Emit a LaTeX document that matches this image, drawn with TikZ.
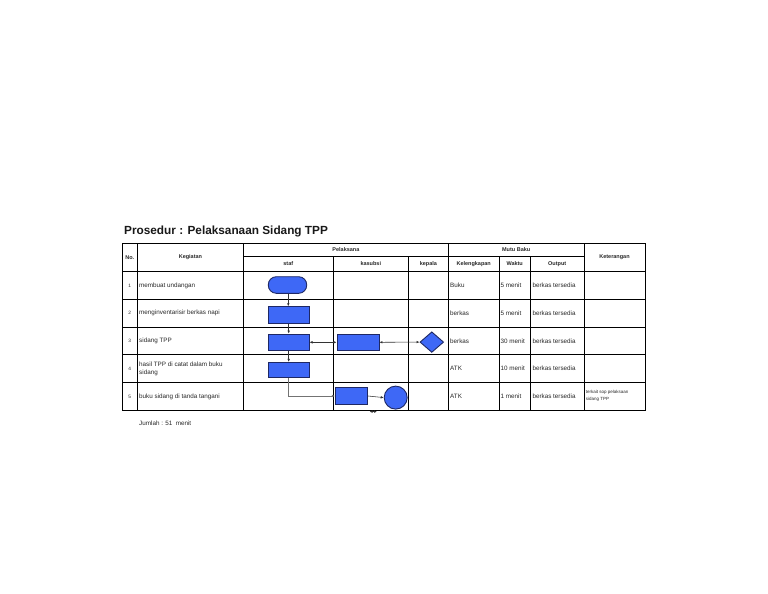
\documentclass[tikz,border=0pt]{standalone}
\usepackage{fontspec}
\setmainfont{Liberation Sans}
\usetikzlibrary{shapes.geometric,arrows.meta}
\definecolor{shapefill}{RGB}{62,104,246}
\definecolor{shapeline}{RGB}{30,40,100}
\definecolor{txt}{RGB}{40,40,40}
\begin{document}
\begin{tikzpicture}[x=1pt,y=-1pt,
  grid/.style={draw=black,line width=0.8pt},
  hdr/.style={font=\fontsize{5.5}{6.5}\selectfont\bfseries,text=txt,inner sep=0pt},
  body/.style={font=\fontsize{6.3}{8}\selectfont,text=txt,inner sep=0pt,anchor=west,align=left},
  small/.style={font=\fontsize{4.5}{7}\selectfont,text=txt,inner sep=0pt,anchor=west,align=left},
  num/.style={font=\fontsize{4.8}{6}\selectfont,text=txt,inner sep=0pt},
  proc/.style={draw=shapeline,fill=shapefill,line width=0.9pt,rectangle,inner sep=0pt},
  term/.style={proc,rounded corners=8pt},
  dec/.style={draw=shapeline,fill=shapefill,line width=0.9pt,diamond,inner sep=0pt},
  con/.style={draw=black!80,line width=0.55pt},
  tip/.style={-{Latex[length=3pt,width=2.6pt]}},
  tips/.style={{Latex[length=3pt,width=2.6pt]}-{Latex[length=3pt,width=2.6pt]}}
]
\useasboundingbox (0,0) rectangle (768,594);
\fill[white] (0,0) rectangle (768,594);

% title
\node[anchor=base west,inner sep=0pt,font=\fontsize{11.8}{14}\selectfont\bfseries,text=black!90] (title) at (124,234.3) {Prosedur : Pelaksanaan Sidang TPP};

% grid
\draw[grid] (122,243.5) rectangle (645,410.75);
\draw[grid] (243.3,256) -- (584,256);
\draw[grid] (122,271.5) -- (645,271.5);
\foreach \y in {299.5,327,354.7,382.6}{\draw[grid] (122,\y) -- (645,\y);}
\foreach \x in {137.5,243.3,448.5,584}{\draw[grid] (\x,243.5) -- (\x,410.75);}
\foreach \x in {333.3,408.3,499,530.5}{\draw[grid] (\x,256) -- (\x,410.75);}

% headers
\node[hdr] (hno) at (129.8,257.5) {No.};
\node[hdr] (hkeg) at (190.4,257.5) {Kegiatan};
\node[hdr] (hpel) at (345.9,249.5) {Pelaksana};
\node[hdr] (hstaf) at (288.3,263.8) {staf};
\node[hdr] (hkas) at (370.8,263.8) {kasubsi};
\node[hdr] (hkep) at (428.4,263.8) {kepala};
\node[hdr] (hmutu) at (516.2,249.5) {Mutu Baku};
\node[hdr] (hkel) at (473.7,263.8) {Kelengkapan};
\node[hdr] (hwak) at (514.7,263.8) {Waktu};
\node[hdr] (hout) at (557.2,263.8) {Output};
\node[hdr] (hket) at (614.5,257.3) {Keterangan};

% row numbers
\node[num] (n1) at (129.8,285.7) {1};
\node[num] (n2) at (129.8,313.2) {2};
\node[num] (n3) at (129.8,340.9) {3};
\node[num] (n4) at (129.8,368.6) {4};
\node[num] (n5) at (129.8,396.6) {5};

% kegiatan
\node[body] (k1) at (139,285.7) {membuat undangan};
\node[body] (k2) at (139,313.2) {menginventarisir berkas napi};
\node[body] (k3) at (139,340.9) {sidang TPP};
\node[body] (k4) at (139,368.4) {hasil TPP di catat dalam buku\\sidang};
\node[body] (k5) at (139,396.6) {buku sidang di tanda tangani};

% kelengkapan
\node[body] (l1) at (450,285.7) {Buku};
\node[body] (l2) at (450,313.2) {berkas};
\node[body] (l3) at (450,340.9) {berkas};
\node[body] (l4) at (450,368.6) {ATK};
\node[body] (l5) at (450,396.6) {ATK};

% waktu
\node[body] (w1) at (500.5,285.7) {5 menit};
\node[body] (w2) at (500.5,313.2) {5 menit};
\node[body] (w3) at (500.5,340.9) {30 menit};
\node[body] (w4) at (500.5,368.6) {10 menit};
\node[body] (w5) at (500.5,396.6) {1 menit};

% output
\node[body] (o1) at (532.3,285.7) {berkas tersedia};
\node[body] (o2) at (532.3,313.2) {berkas tersedia};
\node[body] (o3) at (532.3,340.9) {berkas tersedia};
\node[body] (o4) at (532.3,368.6) {berkas tersedia};
\node[body] (o5) at (532.3,396.6) {berkas tersedia};

% keterangan
\node[small] (ket5) at (585.7,395.5) {terkait sop pelaksaan\\sidang TPP};

% flow shapes
\node[term,minimum width=38.4pt,minimum height=16.6pt] (s1) at (287.5,285) {};
\node[proc,minimum width=40.7pt,minimum height=16.6pt] (s2) at (288.7,315) {};
\node[proc,minimum width=40.7pt,minimum height=16.6pt] (s3) at (288.7,342.3) {};
\node[proc,minimum width=42pt,minimum height=16.6pt] (s3b) at (358,342.3) {};
\node[dec,minimum width=23.7pt,minimum height=20.6pt] (s3c) at (431.8,342.1) {};
\node[proc,minimum width=40.7pt,minimum height=15.4pt] (s4) at (288.7,370) {};
\node[proc,minimum width=32.3pt,minimum height=16.6pt] (s5) at (351.5,396) {};
\node[circle,draw=shapeline,fill=shapefill,line width=0.9pt,minimum size=23pt,inner sep=0pt] (s5b) at (395.7,397.6) {};

% connectors
\draw[con,tip] (s1.south -| 288.3,0) -- (s2.north -| 288.3,0);
\draw[con,tip] (s2.south) -- (s3.north);
\draw[con,tip] (s3.south) -- (s4.north);
\draw[con,tips] (s3.east) -- (s3b.west);
\draw[con,tips] (s3b.east) -- (s3c.west);
\draw[con,draw=black!55,tip] (s4.south) |- (s5.west);
\draw[con,tip] (s5.east) -- (s5b.west);
\coordinate (m1) at (369.5,411.6);
\coordinate (m2) at (377,411.6);
\draw[con,tips] (m1) -- (m2);

% total
\node[body] (jml) at (139,423) {Jumlah : 51\ \ menit};
\end{tikzpicture}
\end{document}
